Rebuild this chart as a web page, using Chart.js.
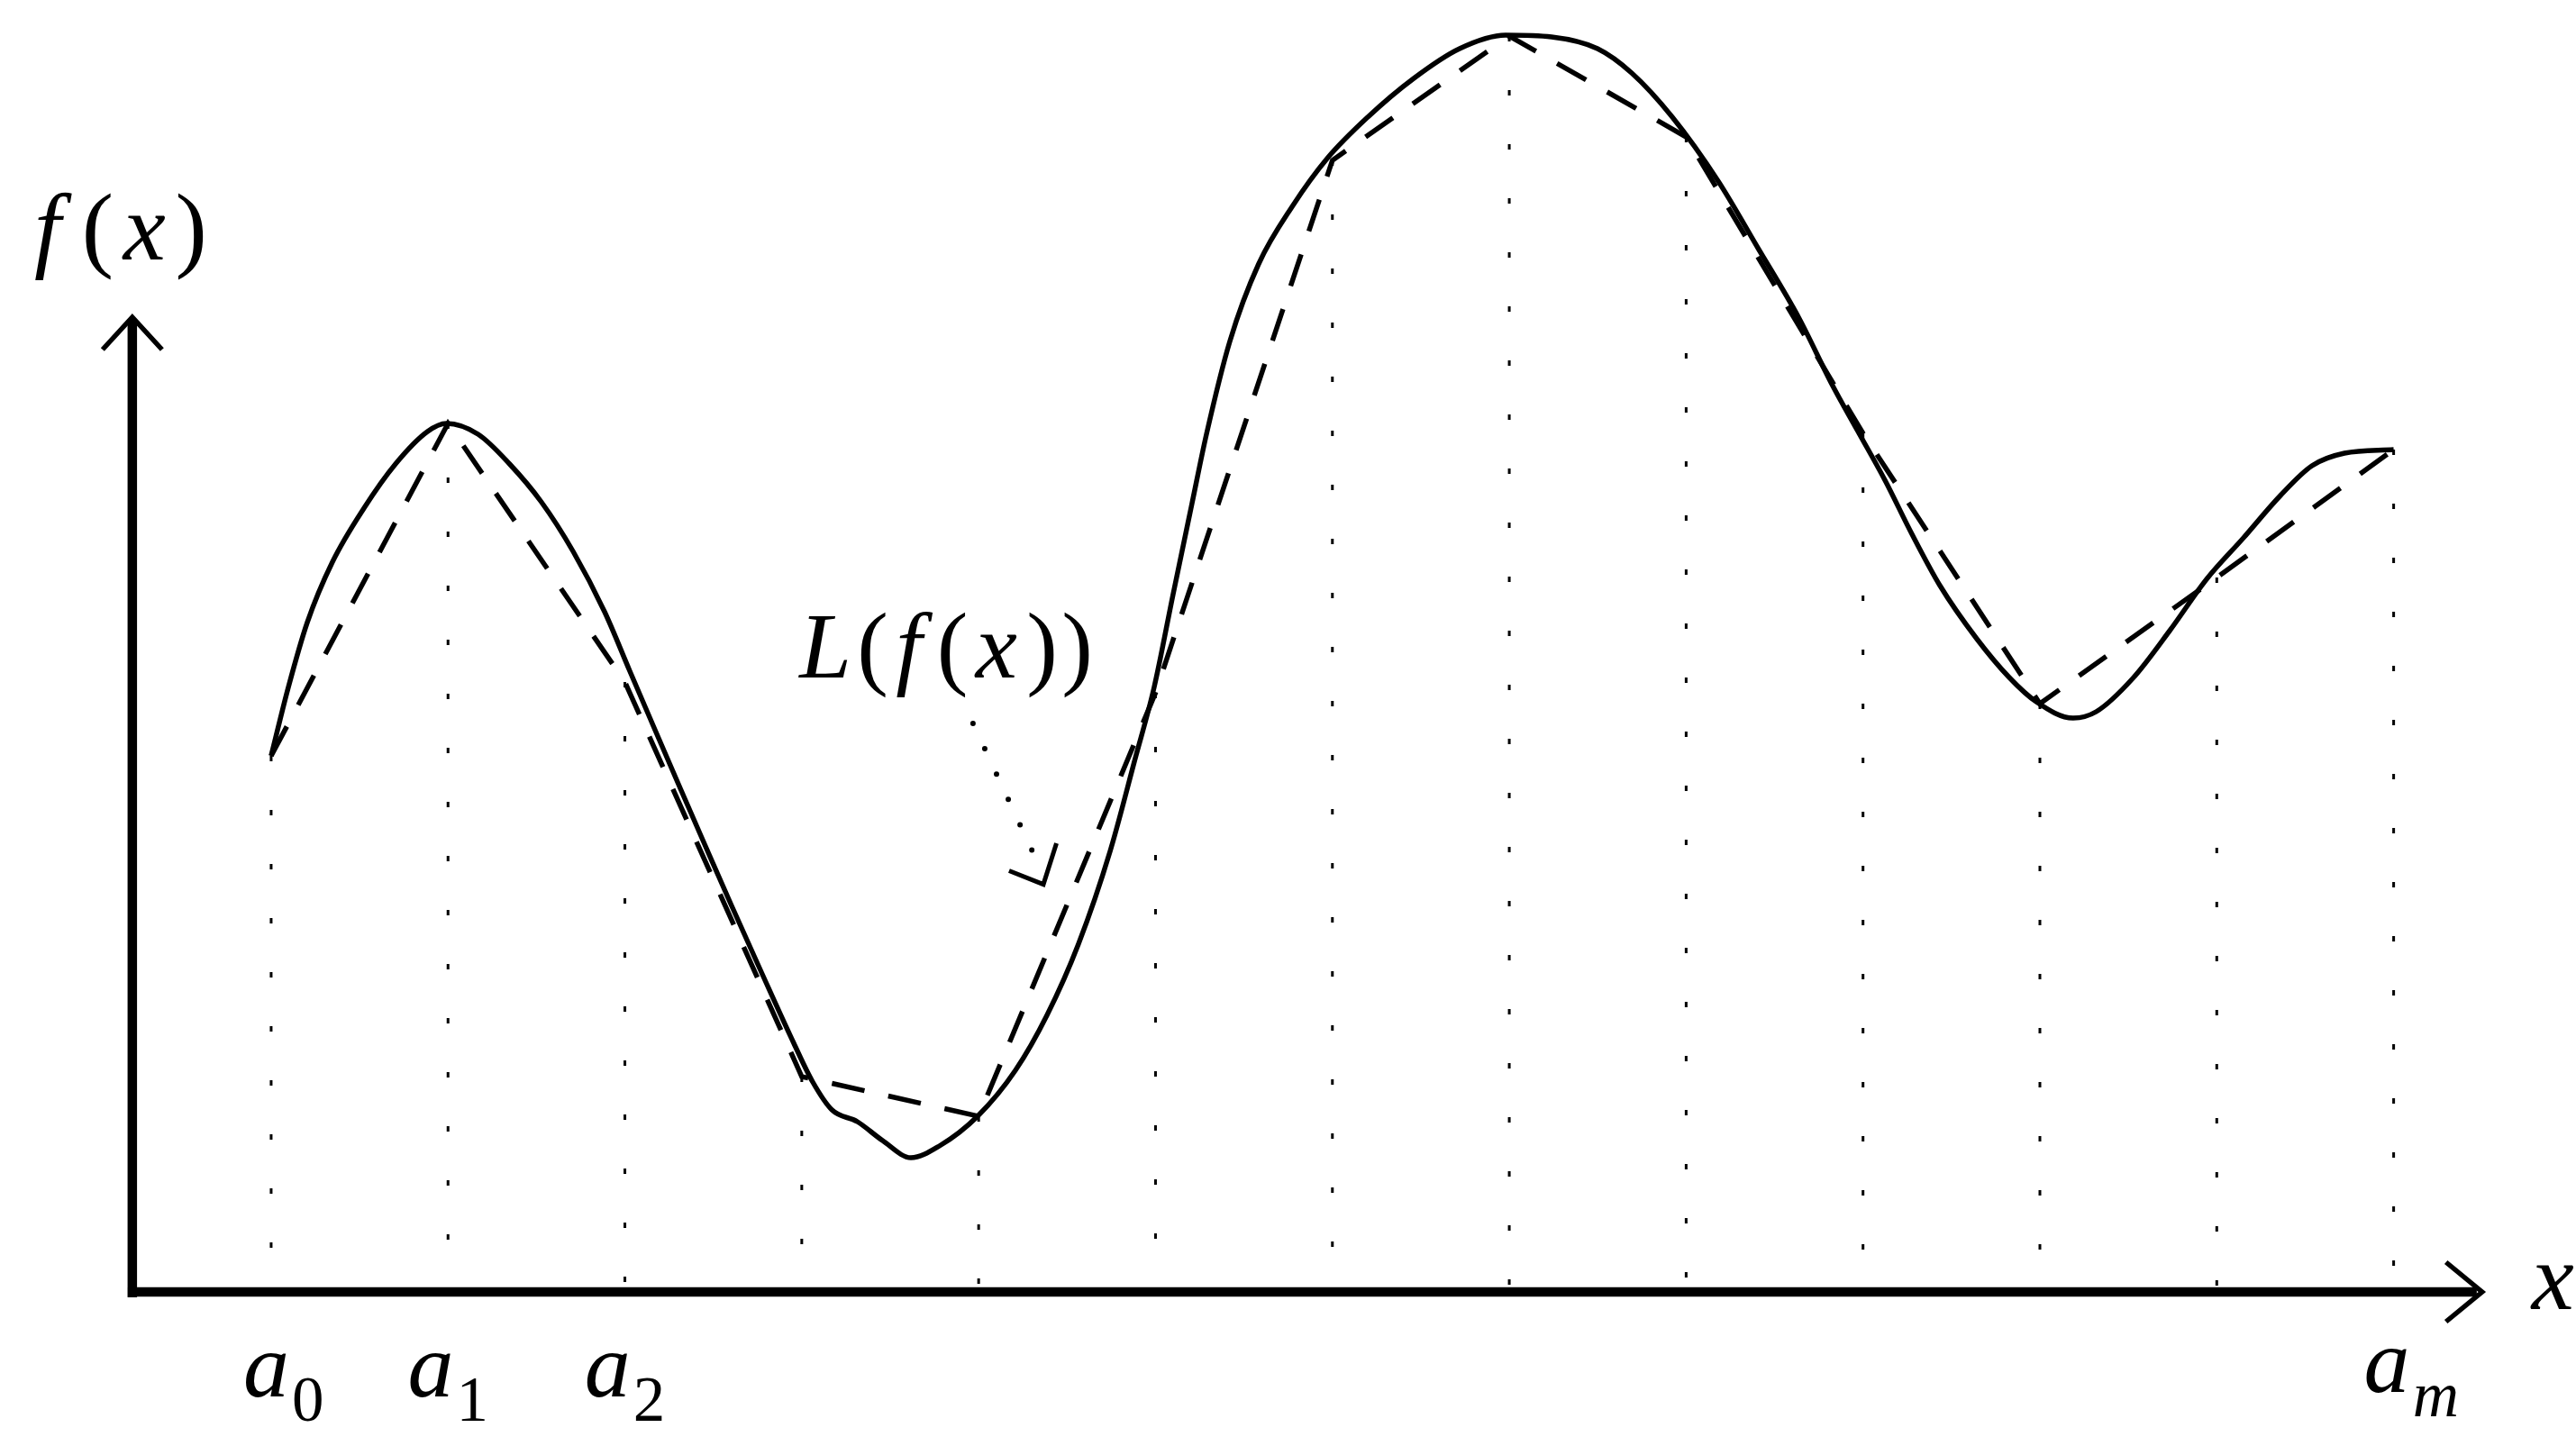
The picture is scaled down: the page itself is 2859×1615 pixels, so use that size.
<!DOCTYPE html>
<html>
<head>
<meta charset="utf-8">
<title>f(x) and L(f(x))</title>
<script src="https://cdn.jsdelivr.net/npm/chart.js@4.4.1/dist/chart.umd.min.js"></script>
<style>
  html, body { margin: 0; padding: 0; background: #fff; }
  #wrap { width: 2859px; height: 1615px; position: relative; }
</style>
</head>
<body>
<div id="wrap"><canvas id="chart"></canvas></div>
<script>
// interpolation nodes a_0 ... a_m and f at those nodes (dashed L(f(x)))
var nodeX = [0, 1, 2, 3, 4, 5, 6, 7, 8, 9, 10, 11, 12];
var nodeY = [5.95, 9.64, 6.77, 2.39, 1.95, 6.65, 12.56, 13.94, 12.82, 9.53, 6.53, 7.93, 9.35];

var curveX = [0, 0.097, 0.204, 0.346, 0.525, 0.703, 0.884, 0.991, 1.17, 1.348, 1.527, 1.707, 1.885,
    2.028, 2.17, 2.313, 2.455, 2.598, 2.776, 2.955, 3.062, 3.171, 3.314, 3.457, 3.617, 3.778, 3.994,
    4.208, 4.386, 4.564, 4.743, 4.885, 4.992, 5.099, 5.206, 5.288, 5.42, 5.583, 5.777, 5.97, 6.2,
    6.46, 6.719, 6.979, 7.239, 7.499, 7.692, 7.922, 8.181, 8.408, 8.635, 8.828, 8.966, 9.124, 9.277,
    9.435, 9.643, 9.827, 9.98, 10.188, 10.318, 10.525, 10.734, 10.942, 11.151, 11.36, 11.538, 11.722, 12];
var curveY = [5.95, 6.71, 7.43, 8.1, 8.7, 9.19, 9.55, 9.64, 9.52, 9.19, 8.77, 8.22, 7.55,
    6.89, 6.24, 5.59, 4.95, 4.31, 3.53, 2.76, 2.33, 2.02, 1.89, 1.68, 1.49, 1.62, 1.95,
    2.46, 3.07, 3.86, 4.89, 5.92, 6.71, 7.74, 8.75, 9.52, 10.55, 11.41, 12.06, 12.58, 13.04,
    13.47, 13.8, 13.95, 13.93, 13.8, 13.53, 13.04, 12.33, 11.58, 10.82, 10.06, 9.57, 9.01, 8.41,
    7.84, 7.25, 6.82, 6.55, 6.37, 6.44, 6.81, 7.34, 7.91, 8.37, 8.84, 9.17, 9.31, 9.35];

// labels under the x axis: a with a subscript
var tickNodes = [0, 1, 2, 12];
var tickSubs = ['0', '1', '2', 'm'];

// ---- layout (data units of the hidden scales) ----
var X_MIN = -1.533, X_MAX = 13.031, Y_MIN = -1.81, Y_MAX = 14.34;
var AXIS_X0 = -0.785;          // where the vertical axis stands
var X_TIP = 12.5, Y_TIP = 10.82;
var TICK_SHIFT = [0.07, 0, 0, 0.1];   // small nudges of the a_i labels
var FONT = '"Liberation Serif", "Times New Roman", Times, serif';

function pts(xs, ys) {
    return xs.map(function(x, i) { return { x: x, y: ys[i] }; });
}

function line(data, style) {
    var ds = {
        data: data,
        showLine: true,
        pointRadius: 0,
        pointHoverRadius: 0,
        borderColor: '#000',
        backgroundColor: '#000',
        fill: false,
        tension: 0
    };
    for (var k in style) ds[k] = style[k];
    return ds;
}

var datasets = [];

// f(x)
datasets.push(line(pts(curveX, curveY), {
    borderWidth: 5.5, cubicInterpolationMode: 'monotone', order: 1
}));

// L(f(x))
datasets.push(line(pts(nodeX, nodeY), {
    borderWidth: 5.5, borderDash: [37, 27], order: 2
}));

// dotted drops from each node to the axis
nodeX.forEach(function(x, i) {
    datasets.push(line([{ x: x, y: nodeY[i] }, { x: x, y: 0 }], {
        borderWidth: 3, borderDash: [6, 54], order: 6
    }));
});

// axes
datasets.push(line([{ x: -0.81, y: 0 }, { x: X_TIP - 0.03, y: 0 }], { borderWidth: 10.5, order: 3 }));
datasets.push(line([{ x: AXIS_X0, y: -0.06 }, { x: AXIS_X0, y: Y_TIP - 0.03 }], { borderWidth: 10.5, order: 3 }));
// arrow heads
datasets.push(line([{ x: X_TIP - 0.204, y: 0.33 }, { x: X_TIP, y: 0 }, { x: X_TIP - 0.204, y: -0.33 }],
    { borderWidth: 5.5, borderJoinStyle: 'miter', order: 3 }));
datasets.push(line([{ x: AXIS_X0 - 0.168, y: Y_TIP - 0.36 }, { x: AXIS_X0, y: Y_TIP }, { x: AXIS_X0 + 0.168, y: Y_TIP - 0.36 }],
    { borderWidth: 5.5, borderJoinStyle: 'miter', order: 3 }));

// pointer from the L(f(x)) label to the dashed line
datasets.push(line([{ x: 3.968, y: 6.31 }, { x: 4.33, y: 4.78 }], {
    borderWidth: 6, borderDash: [0, 31], borderCapStyle: 'round', order: 4
}));
datasets.push(line([{ x: 4.172, y: 4.675 }, { x: 4.366, y: 4.524 }, { x: 4.44, y: 4.98 }], {
    borderWidth: 5, order: 4
}));

function fontFor(r, size) {
    return (r.it ? 'italic ' : '') + Math.round(size * (r.s || 1)) + 'px ' + FONT;
}

// draw a run of text pieces centred on cx, baseline by
function drawRuns(ctx, runs, cx, by, size) {
    var total = 0;
    runs.forEach(function(r) {
        ctx.font = fontFor(r, size);
        r.w = ctx.measureText(r.t).width;
        total += r.w + (r.gap || 0) * size;
    });
    var x = cx - total / 2;
    runs.forEach(function(r) {
        ctx.font = fontFor(r, size);
        ctx.fillText(r.t, x, by + (r.dy || 0) * size);
        x += r.w + (r.gap || 0) * size;
    });
}

var mathLabels = {
    id: 'mathLabels',
    afterDatasetsDraw: function(chart) {
        var ctx = chart.ctx, sx = chart.scales.x, sy = chart.scales.y;
        ctx.save();
        ctx.fillStyle = '#000';
        ctx.textBaseline = 'alphabetic';

        // f(x) above the vertical axis
        drawRuns(ctx, [
            { t: 'f', it: true, gap: 0.22 }, { t: '(', gap: 0.1 },
            { t: 'x', it: true, gap: 0.1 }, { t: ')' }
        ], sx.getPixelForValue(-0.851), sy.getPixelForValue(11.46), 106);

        // x at the end of the horizontal axis
        drawRuns(ctx, [{ t: 'x', it: true }], sx.getPixelForValue(12.9), sy.getPixelForValue(-0.19), 106);

        // L(f(x))
        drawRuns(ctx, [
            { t: 'L', it: true, gap: 0.06 }, { t: '(', gap: 0.08 }, { t: 'f', it: true, gap: 0.16 },
            { t: '(', gap: 0.08 }, { t: 'x', it: true, gap: 0.1 }, { t: ')', gap: 0.04 }, { t: ')' }
        ], sx.getPixelForValue(3.816), sy.getPixelForValue(6.82), 104);

        // a_0, a_1, a_2, a_m
        tickNodes.forEach(function(n, i) {
            var sub = tickSubs[i];
            drawRuns(ctx, [
                { t: 'a', it: true, gap: 0.03 },
                { t: sub, it: sub === 'm', s: 0.7, dy: 0.26 }
            ], sx.getPixelForValue(n + TICK_SHIFT[i]), sy.getPixelForValue(n === 12 ? -1.11 : -1.16), 102);
        });
        ctx.restore();
    }
};

new Chart(document.getElementById('chart').getContext('2d'), {
    type: 'scatter',
    data: { datasets: datasets },
    options: {
        responsive: true,
        maintainAspectRatio: false,
        animation: false,
        events: [],
        layout: { padding: 0 },
        plugins: { legend: { display: false }, tooltip: { enabled: false } },
        scales: {
            x: { type: 'linear', min: X_MIN, max: X_MAX, display: false },
            y: { type: 'linear', min: Y_MIN, max: Y_MAX, display: false }
        }
    },
    plugins: [mathLabels]
});
</script>
</body>
</html>
